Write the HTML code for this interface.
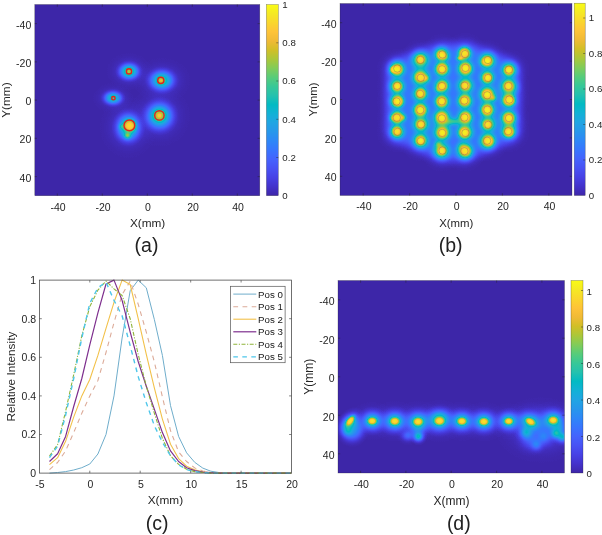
<!DOCTYPE html>
<html lang="en"><head><meta charset="utf-8"><title>Figure</title>
<style>html,body{margin:0;padding:0;background:#fff}svg{display:block;filter:blur(0.35px)}text{font-family:"Liberation Sans",sans-serif;fill:#262626}.t{font-size:10.5px}.l{font-size:11.8px}.c{font-size:9.7px}.p{font-family:"Liberation Sans","Noto Sans CJK SC",sans-serif;font-size:19.5px;font-weight:400;fill:#222}</style></head><body>
<svg width="602" height="535" viewBox="0 0 602 535">
<defs>
<filter id="pm" color-interpolation-filters="sRGB" x="0" y="0" width="1" height="1"><feComponentTransfer>
<feFuncR type="table" tableValues="0.2422 0.2504 0.2578 0.2647 0.2706 0.2751 0.2783 0.2803 0.2813 0.2810 0.2795 0.2760 0.2699 0.2602 0.2440 0.2206 0.1963 0.1834 0.1786 0.1764 0.1687 0.1540 0.1460 0.1380 0.1248 0.1113 0.0952 0.0689 0.0297 0.0036 0.0067 0.0433 0.0964 0.1408 0.1717 0.1938 0.2161 0.2470 0.2906 0.3406 0.3909 0.4456 0.5044 0.5616 0.6174 0.6720 0.7242 0.7738 0.8203 0.8634 0.9035 0.9393 0.9728 0.9956 0.9970 0.9952 0.9892 0.9786 0.9676 0.9610 0.9597 0.9628 0.9691 0.9769"/>
<feFuncG type="table" tableValues="0.1504 0.1650 0.1818 0.1978 0.2147 0.2342 0.2559 0.2782 0.3006 0.3228 0.3447 0.3667 0.3892 0.4123 0.4358 0.4603 0.4847 0.5074 0.5289 0.5499 0.5703 0.5902 0.6091 0.6276 0.6459 0.6635 0.6798 0.6948 0.7082 0.7203 0.7312 0.7411 0.7500 0.7584 0.7670 0.7758 0.7843 0.7918 0.7973 0.8008 0.8029 0.8024 0.7993 0.7942 0.7876 0.7793 0.7698 0.7598 0.7498 0.7406 0.7330 0.7288 0.7298 0.7434 0.7659 0.7893 0.8136 0.8386 0.8639 0.8890 0.9135 0.9373 0.9606 0.9839"/>
<feFuncB type="table" tableValues="0.6603 0.7076 0.7511 0.7952 0.8364 0.8710 0.8991 0.9221 0.9414 0.9579 0.9717 0.9829 0.9906 0.9952 0.9988 0.9973 0.9892 0.9798 0.9682 0.9520 0.9359 0.9218 0.9079 0.8973 0.8883 0.8763 0.8598 0.8394 0.8163 0.7917 0.7660 0.7394 0.7120 0.6842 0.6554 0.6251 0.5923 0.5567 0.5188 0.4789 0.4354 0.3909 0.3480 0.3045 0.2612 0.2227 0.1910 0.1646 0.1535 0.1596 0.1774 0.2100 0.2394 0.2371 0.2199 0.2028 0.1885 0.1766 0.1643 0.1537 0.1423 0.1265 0.1064 0.0805"/>
</feComponentTransfer></filter>
<filter id="bl" x="-20%" y="-20%" width="140%" height="140%" color-interpolation-filters="sRGB"><feGaussianBlur stdDeviation="4.2"/></filter>
<radialGradient id="g2">
<stop offset="0.0000" stop-color="#fff" stop-opacity="1.0000"/>
<stop offset="0.0625" stop-color="#fff" stop-opacity="0.9822"/>
<stop offset="0.1250" stop-color="#fff" stop-opacity="0.9306"/>
<stop offset="0.1875" stop-color="#fff" stop-opacity="0.8507"/>
<stop offset="0.2500" stop-color="#fff" stop-opacity="0.7501"/>
<stop offset="0.3125" stop-color="#fff" stop-opacity="0.6381"/>
<stop offset="0.3750" stop-color="#fff" stop-opacity="0.5237"/>
<stop offset="0.4375" stop-color="#fff" stop-opacity="0.4146"/>
<stop offset="0.5000" stop-color="#fff" stop-opacity="0.3166"/>
<stop offset="0.5625" stop-color="#fff" stop-opacity="0.2333"/>
<stop offset="0.6250" stop-color="#fff" stop-opacity="0.1658"/>
<stop offset="0.6875" stop-color="#fff" stop-opacity="0.1137"/>
<stop offset="0.7500" stop-color="#fff" stop-opacity="0.0752"/>
<stop offset="0.8125" stop-color="#fff" stop-opacity="0.0480"/>
<stop offset="0.8750" stop-color="#fff" stop-opacity="0.0295"/>
<stop offset="0.9375" stop-color="#fff" stop-opacity="0.0175"/>
<stop offset="1.0000" stop-color="#fff" stop-opacity="0.0000"/>
</radialGradient>
<radialGradient id="g3">
<stop offset="0.0000" stop-color="#fff" stop-opacity="1.0000"/>
<stop offset="0.0625" stop-color="#fff" stop-opacity="0.9989"/>
<stop offset="0.1250" stop-color="#fff" stop-opacity="0.9911"/>
<stop offset="0.1875" stop-color="#fff" stop-opacity="0.9701"/>
<stop offset="0.2500" stop-color="#fff" stop-opacity="0.9306"/>
<stop offset="0.3125" stop-color="#fff" stop-opacity="0.8690"/>
<stop offset="0.3750" stop-color="#fff" stop-opacity="0.7846"/>
<stop offset="0.4375" stop-color="#fff" stop-opacity="0.6803"/>
<stop offset="0.5000" stop-color="#fff" stop-opacity="0.5627"/>
<stop offset="0.5625" stop-color="#fff" stop-opacity="0.4410"/>
<stop offset="0.6250" stop-color="#fff" stop-opacity="0.3253"/>
<stop offset="0.6875" stop-color="#fff" stop-opacity="0.2243"/>
<stop offset="0.7500" stop-color="#fff" stop-opacity="0.1436"/>
<stop offset="0.8125" stop-color="#fff" stop-opacity="0.0848"/>
<stop offset="0.8750" stop-color="#fff" stop-opacity="0.0459"/>
<stop offset="0.9375" stop-color="#fff" stop-opacity="0.0226"/>
<stop offset="1.0000" stop-color="#fff" stop-opacity="0.0000"/>
</radialGradient>
<radialGradient id="g4">
<stop offset="0.0000" stop-color="#fff" stop-opacity="1.0000"/>
<stop offset="0.0625" stop-color="#fff" stop-opacity="0.9999"/>
<stop offset="0.1250" stop-color="#fff" stop-opacity="0.9989"/>
<stop offset="0.1875" stop-color="#fff" stop-opacity="0.9943"/>
<stop offset="0.2500" stop-color="#fff" stop-opacity="0.9822"/>
<stop offset="0.3125" stop-color="#fff" stop-opacity="0.9571"/>
<stop offset="0.3750" stop-color="#fff" stop-opacity="0.9130"/>
<stop offset="0.4375" stop-color="#fff" stop-opacity="0.8449"/>
<stop offset="0.5000" stop-color="#fff" stop-opacity="0.7501"/>
<stop offset="0.5625" stop-color="#fff" stop-opacity="0.6310"/>
<stop offset="0.6250" stop-color="#fff" stop-opacity="0.4956"/>
<stop offset="0.6875" stop-color="#fff" stop-opacity="0.3578"/>
<stop offset="0.7500" stop-color="#fff" stop-opacity="0.2333"/>
<stop offset="0.8125" stop-color="#fff" stop-opacity="0.1347"/>
<stop offset="0.8750" stop-color="#fff" stop-opacity="0.0674"/>
<stop offset="0.9375" stop-color="#fff" stop-opacity="0.0286"/>
<stop offset="1.0000" stop-color="#fff" stop-opacity="0.0000"/>
</radialGradient>
<radialGradient id="g5">
<stop offset="0.0000" stop-color="#fff" stop-opacity="1.0000"/>
<stop offset="0.0625" stop-color="#fff" stop-opacity="1.0000"/>
<stop offset="0.1250" stop-color="#fff" stop-opacity="0.9999"/>
<stop offset="0.1875" stop-color="#fff" stop-opacity="0.9989"/>
<stop offset="0.2500" stop-color="#fff" stop-opacity="0.9955"/>
<stop offset="0.3125" stop-color="#fff" stop-opacity="0.9864"/>
<stop offset="0.3750" stop-color="#fff" stop-opacity="0.9665"/>
<stop offset="0.4375" stop-color="#fff" stop-opacity="0.9289"/>
<stop offset="0.5000" stop-color="#fff" stop-opacity="0.8661"/>
<stop offset="0.5625" stop-color="#fff" stop-opacity="0.7718"/>
<stop offset="0.6250" stop-color="#fff" stop-opacity="0.6449"/>
<stop offset="0.6875" stop-color="#fff" stop-opacity="0.4934"/>
<stop offset="0.7500" stop-color="#fff" stop-opacity="0.3357"/>
<stop offset="0.8125" stop-color="#fff" stop-opacity="0.1962"/>
<stop offset="0.8750" stop-color="#fff" stop-opacity="0.0945"/>
<stop offset="0.9375" stop-color="#fff" stop-opacity="0.0357"/>
<stop offset="1.0000" stop-color="#fff" stop-opacity="0.0000"/>
</radialGradient>
<linearGradient id="cb" x1="0" y1="1" x2="0" y2="0">
<stop offset="0.0000" stop-color="#3e26a8"/>
<stop offset="0.0476" stop-color="#4332cb"/>
<stop offset="0.0952" stop-color="#4741e5"/>
<stop offset="0.1429" stop-color="#4852f4"/>
<stop offset="0.1905" stop-color="#4563fd"/>
<stop offset="0.2381" stop-color="#3875fe"/>
<stop offset="0.2857" stop-color="#2e87f7"/>
<stop offset="0.3333" stop-color="#2797eb"/>
<stop offset="0.3810" stop-color="#20a5e3"/>
<stop offset="0.4286" stop-color="#12b1d6"/>
<stop offset="0.4762" stop-color="#02bac3"/>
<stop offset="0.5238" stop-color="#24c1ae"/>
<stop offset="0.5714" stop-color="#37c897"/>
<stop offset="0.6190" stop-color="#57cc7a"/>
<stop offset="0.6667" stop-color="#81cc59"/>
<stop offset="0.7143" stop-color="#abc739"/>
<stop offset="0.7619" stop-color="#d1bf27"/>
<stop offset="0.8095" stop-color="#f0ba36"/>
<stop offset="0.8571" stop-color="#fec338"/>
<stop offset="0.9048" stop-color="#fad62d"/>
<stop offset="0.9524" stop-color="#f5e924"/>
<stop offset="1.0000" stop-color="#f9fb15"/>
</linearGradient>
</defs>
<rect width="602" height="535" fill="#fff"/>
<clipPath id="cpa"><rect x="34.8" y="4.5" width="225.0" height="191.2"/></clipPath>
<g clip-path="url(#cpa)"><g filter="url(#pm)">
<rect x="32.8" y="2.5" width="229.0" height="195.2" fill="#000"/>
<ellipse cx="129.0" cy="71.4" rx="23.6" ry="19.3" fill="url(#g2)" fill-opacity="0.12"/>
<ellipse cx="129.0" cy="71.4" rx="14.0" ry="11.3" fill="url(#g3)" fill-opacity="0.46"/>
<circle cx="129.0" cy="71.4" r="6.0" fill="url(#g2)" fill-opacity="0.45"/>
<ellipse cx="162.0" cy="80.4" rx="30.0" ry="23.6" fill="url(#g2)" fill-opacity="0.12"/>
<ellipse cx="161.8" cy="80.4" rx="17.3" ry="14.3" fill="url(#g3)" fill-opacity="0.42"/>
<circle cx="161.0" cy="80.5" r="6.9" fill="url(#g2)" fill-opacity="0.65"/>
<ellipse cx="113.0" cy="98.0" rx="21.4" ry="16.1" fill="url(#g2)" fill-opacity="0.10"/>
<ellipse cx="113.0" cy="98.0" rx="13.0" ry="9.5" fill="url(#g3)" fill-opacity="0.40"/>
<circle cx="113.4" cy="98.0" r="4.3" fill="url(#g2)" fill-opacity="0.25"/>
<ellipse cx="159.6" cy="116.0" rx="32.2" ry="32.2" fill="url(#g2)" fill-opacity="0.12"/>
<ellipse cx="159.6" cy="116.0" rx="19.6" ry="19.6" fill="url(#g3)" fill-opacity="0.42"/>
<circle cx="159.3" cy="115.5" r="9.9" fill="url(#g2)" fill-opacity="0.75"/>
<ellipse cx="128.3" cy="127.5" rx="30.0" ry="32.2" fill="url(#g2)" fill-opacity="0.12"/>
<ellipse cx="128.3" cy="127.5" rx="17.0" ry="19.6" fill="url(#g3)" fill-opacity="0.45"/>
<circle cx="129.7" cy="125.7" r="9.3" fill="url(#g3)" fill-opacity="0.82"/>
<circle cx="127.5" cy="135.5" r="6.4" fill="url(#g2)" fill-opacity="0.50"/>
<circle cx="121.5" cy="126.5" r="5.1" fill="url(#g2)" fill-opacity="0.25"/>
</g><circle cx="129.0" cy="71.4" r="2.6" fill="none" stroke="#e8211b" stroke-width="1.4"/><circle cx="160.8" cy="80.4" r="3.1" fill="none" stroke="#e8211b" stroke-width="1.4"/><circle cx="113.4" cy="98.2" r="1.7" fill="none" stroke="#e8211b" stroke-width="1.4"/><circle cx="159.4" cy="115.4" r="4.7" fill="none" stroke="#e8211b" stroke-width="1.4"/><circle cx="129.4" cy="125.4" r="5.4" fill="none" stroke="#e8211b" stroke-width="1.4"/></g>
<text class="t" x="58.0" y="210.7" text-anchor="middle">-40</text>
<text class="t" x="31.3" y="28.6" text-anchor="end">-40</text>
<text class="t" x="103.0" y="210.7" text-anchor="middle">-20</text>
<text class="t" x="31.3" y="66.9" text-anchor="end">-20</text>
<text class="t" x="148.0" y="210.7" text-anchor="middle">0</text>
<text class="t" x="31.3" y="105.1" text-anchor="end">0</text>
<text class="t" x="193.0" y="210.7" text-anchor="middle">20</text>
<text class="t" x="31.3" y="143.3" text-anchor="end">20</text>
<text class="t" x="238.0" y="210.7" text-anchor="middle">40</text>
<text class="t" x="31.3" y="181.6" text-anchor="end">40</text>
<path d="M57.3 195.7v-2.2M57.3 4.5v2.2M34.8 23.6h2.2M259.8 23.6h-2.2M102.3 195.7v-2.2M102.3 4.5v2.2M34.8 61.9h2.2M259.8 61.9h-2.2M147.3 195.7v-2.2M147.3 4.5v2.2M34.8 100.1h2.2M259.8 100.1h-2.2M192.3 195.7v-2.2M192.3 4.5v2.2M34.8 138.3h2.2M259.8 138.3h-2.2M237.3 195.7v-2.2M237.3 4.5v2.2M34.8 176.6h2.2M259.8 176.6h-2.2" stroke="#262626" stroke-width="0.6" fill="none" opacity="0.8"/>
<rect x="34.8" y="4.5" width="225.0" height="191.2" fill="none" stroke="#262626" stroke-width="0.5" opacity="0.55"/>
<text class="l" style="font-size:11.8px" x="147.6" y="227.0" text-anchor="middle">X(mm)</text>
<text class="l" style="font-size:11.8px" transform="translate(9.6 100.1) rotate(-90)" text-anchor="middle">Y(mm)</text>
<rect x="266.4" y="4.6" width="11.9" height="191.1" fill="url(#cb)" stroke="#262626" stroke-width="0.5" stroke-opacity="0.55"/>
<text class="c" x="282.3" y="199.1">0</text>
<text class="c" x="282.3" y="160.9">0.2</text>
<text class="c" x="282.3" y="122.7">0.4</text>
<text class="c" x="282.3" y="84.4">0.6</text>
<text class="c" x="282.3" y="46.2">0.8</text>
<text class="c" x="282.3" y="8.0">1</text>
<path d="M278.3 157.5h-2M278.3 119.3h-2M278.3 81.0h-2M278.3 42.8h-2" stroke="#262626" stroke-width="0.6" fill="none" opacity="0.8"/>
<text class="p" x="146.5" y="251.6" text-anchor="middle">(a)</text>
<clipPath id="cpb"><rect x="340.0" y="3.5" width="232.0" height="192.0"/></clipPath>
<g clip-path="url(#cpb)"><g filter="url(#pm)">
<rect x="338.0" y="1.5" width="236.0" height="196.0" fill="#000"/>
<polygon points="397.3,69.3 420.7,60.0 441.9,54.5 465.0,53.4 487.6,60.6 508.9,69.9 508.9,131.5 487.6,140.8 465.0,150.9 441.9,150.9 420.7,140.8 397.3,131.8" fill="#fff" stroke="#fff" stroke-width="18" stroke-linejoin="round" opacity="0.17" filter="url(#bl)"/>
<circle cx="397.3" cy="69.3" r="21.4" fill="url(#g2)" fill-opacity="0.17"/>
<circle cx="397.3" cy="86.3" r="21.4" fill="url(#g2)" fill-opacity="0.17"/>
<circle cx="397.3" cy="101.0" r="21.4" fill="url(#g2)" fill-opacity="0.17"/>
<circle cx="397.3" cy="117.7" r="21.4" fill="url(#g2)" fill-opacity="0.17"/>
<circle cx="397.3" cy="131.8" r="21.4" fill="url(#g2)" fill-opacity="0.17"/>
<circle cx="420.7" cy="60.0" r="21.4" fill="url(#g2)" fill-opacity="0.17"/>
<circle cx="420.7" cy="77.3" r="21.4" fill="url(#g2)" fill-opacity="0.17"/>
<circle cx="420.7" cy="93.8" r="21.4" fill="url(#g2)" fill-opacity="0.17"/>
<circle cx="420.7" cy="110.5" r="21.4" fill="url(#g2)" fill-opacity="0.17"/>
<circle cx="420.7" cy="124.4" r="21.4" fill="url(#g2)" fill-opacity="0.17"/>
<circle cx="420.7" cy="140.8" r="21.4" fill="url(#g2)" fill-opacity="0.17"/>
<circle cx="441.9" cy="54.5" r="21.4" fill="url(#g2)" fill-opacity="0.17"/>
<circle cx="441.9" cy="69.3" r="21.4" fill="url(#g2)" fill-opacity="0.17"/>
<circle cx="441.9" cy="85.8" r="21.4" fill="url(#g2)" fill-opacity="0.17"/>
<circle cx="441.9" cy="101.2" r="21.4" fill="url(#g2)" fill-opacity="0.17"/>
<circle cx="441.9" cy="117.7" r="21.4" fill="url(#g2)" fill-opacity="0.17"/>
<circle cx="441.9" cy="132.3" r="21.4" fill="url(#g2)" fill-opacity="0.17"/>
<circle cx="441.9" cy="150.9" r="21.4" fill="url(#g2)" fill-opacity="0.17"/>
<circle cx="465.0" cy="53.4" r="21.4" fill="url(#g2)" fill-opacity="0.17"/>
<circle cx="465.0" cy="68.5" r="21.4" fill="url(#g2)" fill-opacity="0.17"/>
<circle cx="465.0" cy="85.8" r="21.4" fill="url(#g2)" fill-opacity="0.17"/>
<circle cx="465.0" cy="101.0" r="21.4" fill="url(#g2)" fill-opacity="0.17"/>
<circle cx="465.0" cy="117.2" r="21.4" fill="url(#g2)" fill-opacity="0.17"/>
<circle cx="465.0" cy="132.3" r="21.4" fill="url(#g2)" fill-opacity="0.17"/>
<circle cx="465.0" cy="150.9" r="21.4" fill="url(#g2)" fill-opacity="0.17"/>
<circle cx="487.6" cy="60.6" r="21.4" fill="url(#g2)" fill-opacity="0.17"/>
<circle cx="487.6" cy="77.3" r="21.4" fill="url(#g2)" fill-opacity="0.17"/>
<circle cx="487.6" cy="94.6" r="21.4" fill="url(#g2)" fill-opacity="0.17"/>
<circle cx="487.6" cy="109.7" r="21.4" fill="url(#g2)" fill-opacity="0.17"/>
<circle cx="487.6" cy="124.4" r="21.4" fill="url(#g2)" fill-opacity="0.17"/>
<circle cx="487.6" cy="140.8" r="21.4" fill="url(#g2)" fill-opacity="0.17"/>
<circle cx="508.9" cy="69.9" r="21.4" fill="url(#g2)" fill-opacity="0.17"/>
<circle cx="508.9" cy="86.3" r="21.4" fill="url(#g2)" fill-opacity="0.17"/>
<circle cx="508.9" cy="100.4" r="21.4" fill="url(#g2)" fill-opacity="0.17"/>
<circle cx="508.9" cy="118.2" r="21.4" fill="url(#g2)" fill-opacity="0.17"/>
<circle cx="508.9" cy="131.5" r="21.4" fill="url(#g2)" fill-opacity="0.17"/>
<circle cx="397.1" cy="69.0" r="13.1" fill="url(#g3)" fill-opacity="0.44"/>
<circle cx="396.9" cy="86.3" r="12.2" fill="url(#g3)" fill-opacity="0.44"/>
<circle cx="396.9" cy="101.0" r="11.1" fill="url(#g3)" fill-opacity="0.44"/>
<circle cx="397.2" cy="117.3" r="11.3" fill="url(#g3)" fill-opacity="0.44"/>
<circle cx="397.2" cy="132.1" r="11.4" fill="url(#g3)" fill-opacity="0.44"/>
<circle cx="420.4" cy="60.1" r="14.1" fill="url(#g3)" fill-opacity="0.44"/>
<circle cx="420.8" cy="77.2" r="14.2" fill="url(#g3)" fill-opacity="0.44"/>
<circle cx="420.2" cy="94.2" r="11.9" fill="url(#g3)" fill-opacity="0.44"/>
<circle cx="420.3" cy="110.1" r="12.0" fill="url(#g3)" fill-opacity="0.44"/>
<circle cx="421.0" cy="124.1" r="12.9" fill="url(#g3)" fill-opacity="0.44"/>
<circle cx="420.8" cy="140.7" r="12.8" fill="url(#g3)" fill-opacity="0.44"/>
<circle cx="441.5" cy="54.1" r="11.7" fill="url(#g3)" fill-opacity="0.44"/>
<circle cx="442.1" cy="69.2" r="12.0" fill="url(#g3)" fill-opacity="0.44"/>
<circle cx="442.0" cy="85.8" r="12.0" fill="url(#g3)" fill-opacity="0.44"/>
<circle cx="442.2" cy="101.4" r="11.8" fill="url(#g3)" fill-opacity="0.44"/>
<circle cx="442.0" cy="117.7" r="13.9" fill="url(#g3)" fill-opacity="0.44"/>
<circle cx="442.1" cy="132.1" r="14.2" fill="url(#g3)" fill-opacity="0.44"/>
<circle cx="441.5" cy="150.8" r="13.5" fill="url(#g3)" fill-opacity="0.44"/>
<circle cx="464.7" cy="53.4" r="11.1" fill="url(#g3)" fill-opacity="0.44"/>
<circle cx="465.2" cy="68.8" r="12.9" fill="url(#g3)" fill-opacity="0.44"/>
<circle cx="465.4" cy="85.6" r="13.3" fill="url(#g3)" fill-opacity="0.44"/>
<circle cx="465.1" cy="101.1" r="12.5" fill="url(#g3)" fill-opacity="0.44"/>
<circle cx="465.3" cy="117.6" r="12.6" fill="url(#g3)" fill-opacity="0.44"/>
<circle cx="465.2" cy="131.9" r="13.3" fill="url(#g3)" fill-opacity="0.44"/>
<circle cx="465.1" cy="151.4" r="13.7" fill="url(#g3)" fill-opacity="0.44"/>
<circle cx="487.4" cy="60.5" r="13.2" fill="url(#g3)" fill-opacity="0.44"/>
<circle cx="487.1" cy="77.3" r="11.5" fill="url(#g3)" fill-opacity="0.44"/>
<circle cx="487.2" cy="94.2" r="13.5" fill="url(#g3)" fill-opacity="0.44"/>
<circle cx="487.2" cy="109.4" r="12.3" fill="url(#g3)" fill-opacity="0.44"/>
<circle cx="488.0" cy="124.0" r="12.5" fill="url(#g3)" fill-opacity="0.44"/>
<circle cx="487.6" cy="141.2" r="13.7" fill="url(#g3)" fill-opacity="0.44"/>
<circle cx="509.3" cy="69.7" r="12.4" fill="url(#g3)" fill-opacity="0.44"/>
<circle cx="508.8" cy="86.7" r="14.2" fill="url(#g3)" fill-opacity="0.44"/>
<circle cx="508.6" cy="100.1" r="11.7" fill="url(#g3)" fill-opacity="0.44"/>
<circle cx="508.6" cy="118.2" r="12.9" fill="url(#g3)" fill-opacity="0.44"/>
<circle cx="508.7" cy="131.0" r="12.4" fill="url(#g3)" fill-opacity="0.44"/>
<circle cx="393.3" cy="69.6" r="5.3" fill="url(#g3)" fill-opacity="0.80"/>
<circle cx="425.8" cy="78.2" r="6.4" fill="url(#g2)" fill-opacity="0.60"/>
<ellipse cx="460.3" cy="58.2" rx="6.9" ry="5.1" fill="url(#g2)" fill-opacity="0.75"/>
<ellipse cx="452.5" cy="121.5" rx="21.4" ry="7.3" fill="url(#g2)" fill-opacity="0.42"/>
<circle cx="493.0" cy="97.8" r="6.4" fill="url(#g2)" fill-opacity="0.55"/>
<circle cx="438.5" cy="144.5" r="7.3" fill="url(#g2)" fill-opacity="0.45"/>
<circle cx="403.0" cy="117.6" r="6.0" fill="url(#g2)" fill-opacity="0.50"/>
<circle cx="392.8" cy="118.0" r="5.6" fill="url(#g2)" fill-opacity="0.40"/>
<circle cx="438.5" cy="89.0" r="6.4" fill="url(#g2)" fill-opacity="0.45"/>
<circle cx="445.0" cy="57.0" r="7.5" fill="url(#g2)" fill-opacity="0.40"/>
<circle cx="484.0" cy="62.0" r="6.9" fill="url(#g2)" fill-opacity="0.45"/>
<circle cx="462.0" cy="147.0" r="8.6" fill="url(#g2)" fill-opacity="0.35"/>
<circle cx="511.5" cy="101.0" r="6.4" fill="url(#g2)" fill-opacity="0.50"/>
<circle cx="397.1" cy="69.4" r="8.4" fill="url(#g3)" fill-opacity="0.92"/>
<circle cx="397.3" cy="86.4" r="7.3" fill="url(#g3)" fill-opacity="0.89"/>
<circle cx="397.8" cy="101.3" r="8.6" fill="url(#g3)" fill-opacity="0.92"/>
<circle cx="397.2" cy="117.6" r="8.3" fill="url(#g3)" fill-opacity="0.83"/>
<circle cx="396.8" cy="131.3" r="7.4" fill="url(#g3)" fill-opacity="0.84"/>
<circle cx="420.5" cy="59.5" r="7.4" fill="url(#g3)" fill-opacity="0.82"/>
<circle cx="420.2" cy="77.1" r="8.8" fill="url(#g3)" fill-opacity="0.82"/>
<circle cx="420.8" cy="93.4" r="7.8" fill="url(#g3)" fill-opacity="0.85"/>
<circle cx="420.5" cy="110.0" r="9.0" fill="url(#g3)" fill-opacity="0.91"/>
<circle cx="420.7" cy="124.4" r="7.3" fill="url(#g3)" fill-opacity="0.83"/>
<circle cx="420.5" cy="140.5" r="7.4" fill="url(#g3)" fill-opacity="0.91"/>
<circle cx="441.3" cy="55.0" r="7.4" fill="url(#g3)" fill-opacity="0.88"/>
<circle cx="442.0" cy="68.7" r="8.9" fill="url(#g3)" fill-opacity="0.88"/>
<circle cx="442.3" cy="86.0" r="7.8" fill="url(#g3)" fill-opacity="0.85"/>
<circle cx="441.5" cy="101.5" r="8.6" fill="url(#g3)" fill-opacity="0.88"/>
<circle cx="441.7" cy="117.4" r="9.0" fill="url(#g3)" fill-opacity="0.91"/>
<circle cx="442.3" cy="132.7" r="8.5" fill="url(#g3)" fill-opacity="0.91"/>
<circle cx="441.6" cy="150.9" r="7.2" fill="url(#g3)" fill-opacity="0.86"/>
<circle cx="464.4" cy="53.1" r="8.4" fill="url(#g3)" fill-opacity="0.85"/>
<circle cx="465.5" cy="68.4" r="9.0" fill="url(#g3)" fill-opacity="0.92"/>
<circle cx="465.5" cy="85.6" r="7.6" fill="url(#g3)" fill-opacity="0.84"/>
<circle cx="464.6" cy="100.6" r="8.8" fill="url(#g3)" fill-opacity="0.89"/>
<circle cx="465.4" cy="117.2" r="8.6" fill="url(#g3)" fill-opacity="0.89"/>
<circle cx="464.5" cy="132.5" r="8.6" fill="url(#g3)" fill-opacity="0.92"/>
<circle cx="465.3" cy="150.9" r="8.6" fill="url(#g3)" fill-opacity="0.84"/>
<circle cx="487.4" cy="61.0" r="7.9" fill="url(#g3)" fill-opacity="0.93"/>
<circle cx="487.5" cy="77.8" r="7.5" fill="url(#g3)" fill-opacity="0.90"/>
<circle cx="487.2" cy="94.2" r="8.6" fill="url(#g3)" fill-opacity="0.92"/>
<circle cx="487.2" cy="110.1" r="8.4" fill="url(#g3)" fill-opacity="0.93"/>
<circle cx="487.4" cy="124.5" r="7.2" fill="url(#g3)" fill-opacity="0.83"/>
<circle cx="488.2" cy="141.0" r="8.9" fill="url(#g3)" fill-opacity="0.88"/>
<circle cx="508.8" cy="70.3" r="7.5" fill="url(#g3)" fill-opacity="0.91"/>
<circle cx="508.6" cy="86.1" r="8.2" fill="url(#g3)" fill-opacity="0.85"/>
<circle cx="508.6" cy="100.3" r="8.8" fill="url(#g3)" fill-opacity="0.83"/>
<circle cx="508.7" cy="118.1" r="8.8" fill="url(#g3)" fill-opacity="0.88"/>
<circle cx="508.8" cy="132.0" r="8.1" fill="url(#g3)" fill-opacity="0.88"/>
</g><circle cx="397.3" cy="68.5" r="3.7" fill="none" stroke="#4a5560" stroke-width="0.5" opacity="0.6"/><circle cx="397.2" cy="85.8" r="3.7" fill="none" stroke="#4a5560" stroke-width="0.5" opacity="0.6"/><circle cx="396.5" cy="101.5" r="3.7" fill="none" stroke="#4a5560" stroke-width="0.5" opacity="0.6"/><circle cx="396.8" cy="117.7" r="3.7" fill="none" stroke="#4a5560" stroke-width="0.5" opacity="0.6"/><circle cx="397.7" cy="131.9" r="3.7" fill="none" stroke="#4a5560" stroke-width="0.5" opacity="0.6"/><circle cx="420.4" cy="60.0" r="3.7" fill="none" stroke="#4a5560" stroke-width="0.5" opacity="0.6"/><circle cx="420.8" cy="77.8" r="3.7" fill="none" stroke="#4a5560" stroke-width="0.5" opacity="0.6"/><circle cx="420.1" cy="93.9" r="3.7" fill="none" stroke="#4a5560" stroke-width="0.5" opacity="0.6"/><circle cx="420.3" cy="110.1" r="3.7" fill="none" stroke="#4a5560" stroke-width="0.5" opacity="0.6"/><circle cx="421.1" cy="124.4" r="3.7" fill="none" stroke="#4a5560" stroke-width="0.5" opacity="0.6"/><circle cx="420.8" cy="141.2" r="3.7" fill="none" stroke="#4a5560" stroke-width="0.5" opacity="0.6"/><circle cx="442.6" cy="54.4" r="3.7" fill="none" stroke="#4a5560" stroke-width="0.5" opacity="0.6"/><circle cx="442.1" cy="69.3" r="3.7" fill="none" stroke="#4a5560" stroke-width="0.5" opacity="0.6"/><circle cx="441.9" cy="86.1" r="3.7" fill="none" stroke="#4a5560" stroke-width="0.5" opacity="0.6"/><circle cx="441.8" cy="101.3" r="3.7" fill="none" stroke="#4a5560" stroke-width="0.5" opacity="0.6"/><circle cx="441.9" cy="118.4" r="3.7" fill="none" stroke="#4a5560" stroke-width="0.5" opacity="0.6"/><circle cx="442.2" cy="132.9" r="3.7" fill="none" stroke="#4a5560" stroke-width="0.5" opacity="0.6"/><circle cx="442.6" cy="150.5" r="3.7" fill="none" stroke="#4a5560" stroke-width="0.5" opacity="0.6"/><circle cx="465.1" cy="54.1" r="3.7" fill="none" stroke="#4a5560" stroke-width="0.5" opacity="0.6"/><circle cx="465.5" cy="67.9" r="3.7" fill="none" stroke="#4a5560" stroke-width="0.5" opacity="0.6"/><circle cx="464.4" cy="85.7" r="3.7" fill="none" stroke="#4a5560" stroke-width="0.5" opacity="0.6"/><circle cx="464.3" cy="100.6" r="3.7" fill="none" stroke="#4a5560" stroke-width="0.5" opacity="0.6"/><circle cx="464.3" cy="117.5" r="3.7" fill="none" stroke="#4a5560" stroke-width="0.5" opacity="0.6"/><circle cx="465.5" cy="132.9" r="3.7" fill="none" stroke="#4a5560" stroke-width="0.5" opacity="0.6"/><circle cx="464.4" cy="151.2" r="3.7" fill="none" stroke="#4a5560" stroke-width="0.5" opacity="0.6"/><circle cx="487.9" cy="60.0" r="3.7" fill="none" stroke="#4a5560" stroke-width="0.5" opacity="0.6"/><circle cx="488.2" cy="78.0" r="3.7" fill="none" stroke="#4a5560" stroke-width="0.5" opacity="0.6"/><circle cx="487.2" cy="95.3" r="3.7" fill="none" stroke="#4a5560" stroke-width="0.5" opacity="0.6"/><circle cx="487.4" cy="109.7" r="3.7" fill="none" stroke="#4a5560" stroke-width="0.5" opacity="0.6"/><circle cx="488.4" cy="124.9" r="3.7" fill="none" stroke="#4a5560" stroke-width="0.5" opacity="0.6"/><circle cx="487.1" cy="140.7" r="3.7" fill="none" stroke="#4a5560" stroke-width="0.5" opacity="0.6"/><circle cx="508.9" cy="69.6" r="3.7" fill="none" stroke="#4a5560" stroke-width="0.5" opacity="0.6"/><circle cx="508.4" cy="86.0" r="3.7" fill="none" stroke="#4a5560" stroke-width="0.5" opacity="0.6"/><circle cx="509.3" cy="99.6" r="3.7" fill="none" stroke="#4a5560" stroke-width="0.5" opacity="0.6"/><circle cx="509.0" cy="118.1" r="3.7" fill="none" stroke="#4a5560" stroke-width="0.5" opacity="0.6"/><circle cx="508.1" cy="131.2" r="3.7" fill="none" stroke="#4a5560" stroke-width="0.5" opacity="0.6"/></g>
<text class="t" x="363.9" y="210.4" text-anchor="middle">-40</text>
<text class="t" x="336.5" y="27.7" text-anchor="end">-40</text>
<text class="t" x="410.3" y="210.4" text-anchor="middle">-20</text>
<text class="t" x="336.5" y="66.1" text-anchor="end">-20</text>
<text class="t" x="456.7" y="210.4" text-anchor="middle">0</text>
<text class="t" x="336.5" y="104.5" text-anchor="end">0</text>
<text class="t" x="503.1" y="210.4" text-anchor="middle">20</text>
<text class="t" x="336.5" y="142.9" text-anchor="end">20</text>
<text class="t" x="549.5" y="210.4" text-anchor="middle">40</text>
<text class="t" x="336.5" y="181.3" text-anchor="end">40</text>
<path d="M363.2 195.5v-2.2M363.2 3.5v2.2M340.0 22.7h2.2M572.0 22.7h-2.2M409.6 195.5v-2.2M409.6 3.5v2.2M340.0 61.1h2.2M572.0 61.1h-2.2M456.0 195.5v-2.2M456.0 3.5v2.2M340.0 99.5h2.2M572.0 99.5h-2.2M502.4 195.5v-2.2M502.4 3.5v2.2M340.0 137.9h2.2M572.0 137.9h-2.2M548.8 195.5v-2.2M548.8 3.5v2.2M340.0 176.3h2.2M572.0 176.3h-2.2" stroke="#262626" stroke-width="0.6" fill="none" opacity="0.8"/>
<rect x="340.0" y="3.5" width="232.0" height="192.0" fill="none" stroke="#262626" stroke-width="0.5" opacity="0.55"/>
<text class="l" style="font-size:11.4px" x="456.3" y="226.6" text-anchor="middle">X(mm)</text>
<text class="l" style="font-size:11.4px" transform="translate(316.8 99.5) rotate(-90)" text-anchor="middle">Y(mm)</text>
<rect x="574.2" y="3.2" width="11.0" height="192.3" fill="url(#cb)" stroke="#262626" stroke-width="0.5" stroke-opacity="0.55"/>
<text class="c" x="588.8" y="198.9">0</text>
<text class="c" x="588.8" y="163.4">0.2</text>
<text class="c" x="588.8" y="127.9">0.4</text>
<text class="c" x="588.8" y="92.4">0.6</text>
<text class="c" x="588.8" y="56.9">0.8</text>
<text class="c" x="588.8" y="21.4">1</text>
<path d="M585.2 160.0h-2M585.2 124.5h-2M585.2 89.0h-2M585.2 53.5h-2M585.2 18.0h-2" stroke="#262626" stroke-width="0.6" fill="none" opacity="0.8"/>
<text class="p" x="450.7" y="252.0" text-anchor="middle">(b)</text>
<clipPath id="cpd"><rect x="338.0" y="280.5" width="226.5" height="192.5"/></clipPath>
<g clip-path="url(#cpd)"><g filter="url(#pm)">
<rect x="336.0" y="278.5" width="230.5" height="196.5" fill="#000"/>
<ellipse cx="372.2" cy="421.0" rx="25.0" ry="19.8" fill="url(#g2)" fill-opacity="0.16"/>
<ellipse cx="394.8" cy="421.2" rx="26.5" ry="21.0" fill="url(#g2)" fill-opacity="0.16"/>
<ellipse cx="418.1" cy="421.6" rx="27.0" ry="21.4" fill="url(#g2)" fill-opacity="0.16"/>
<ellipse cx="439.5" cy="421.0" rx="27.8" ry="22.0" fill="url(#g2)" fill-opacity="0.16"/>
<ellipse cx="461.9" cy="421.2" rx="25.7" ry="20.4" fill="url(#g2)" fill-opacity="0.16"/>
<ellipse cx="483.9" cy="421.6" rx="25.7" ry="20.4" fill="url(#g2)" fill-opacity="0.16"/>
<ellipse cx="508.7" cy="421.2" rx="23.7" ry="18.7" fill="url(#g2)" fill-opacity="0.16"/>
<ellipse cx="553.2" cy="420.2" rx="25.2" ry="20.0" fill="url(#g2)" fill-opacity="0.16"/>
<ellipse cx="372.2" cy="421.0" rx="16.0" ry="14.6" fill="url(#g2)" fill-opacity="0.48"/>
<ellipse cx="394.8" cy="421.2" rx="17.0" ry="15.5" fill="url(#g2)" fill-opacity="0.48"/>
<ellipse cx="418.1" cy="421.6" rx="17.3" ry="15.8" fill="url(#g2)" fill-opacity="0.48"/>
<ellipse cx="439.5" cy="421.0" rx="17.8" ry="16.2" fill="url(#g2)" fill-opacity="0.48"/>
<ellipse cx="461.9" cy="421.2" rx="16.5" ry="15.0" fill="url(#g2)" fill-opacity="0.48"/>
<ellipse cx="483.9" cy="421.6" rx="16.5" ry="15.0" fill="url(#g2)" fill-opacity="0.48"/>
<ellipse cx="508.7" cy="421.2" rx="15.2" ry="13.8" fill="url(#g2)" fill-opacity="0.48"/>
<ellipse cx="553.2" cy="420.2" rx="16.2" ry="14.7" fill="url(#g2)" fill-opacity="0.48"/>
<ellipse cx="352.0" cy="429.0" rx="17.5" ry="18.3" fill="url(#g3)" fill-opacity="0.30"/>
<ellipse rx="17.2" ry="11.8" transform="translate(350.0 422.0) rotate(-50)" fill="url(#g2)" fill-opacity="0.45"/>
<ellipse rx="9.0" ry="4.5" transform="translate(350.3 420.8) rotate(-52)" fill="url(#g3)" fill-opacity="0.88"/>
<circle cx="348.0" cy="431.0" r="9.7" fill="url(#g2)" fill-opacity="0.22"/>
<circle cx="418.4" cy="436.6" r="9.0" fill="url(#g2)" fill-opacity="0.46"/>
<ellipse cx="408.0" cy="435.5" rx="11.8" ry="9.9" fill="url(#g2)" fill-opacity="0.20"/>
<ellipse cx="418.0" cy="429.0" rx="12.9" ry="15.0" fill="url(#g2)" fill-opacity="0.15"/>
<ellipse cx="439.5" cy="416.5" rx="19.3" ry="12.9" fill="url(#g2)" fill-opacity="0.18"/>
<ellipse cx="530.3" cy="421.8" rx="25.7" ry="20.4" fill="url(#g2)" fill-opacity="0.18"/>
<ellipse rx="17.2" ry="13.3" transform="translate(530.3 421.8) rotate(25)" fill="url(#g2)" fill-opacity="0.45"/>
<ellipse rx="7.7" ry="4.8" transform="translate(530.3 421.6) rotate(28)" fill="url(#g3)" fill-opacity="0.87"/>
<circle cx="526.0" cy="432.5" r="12.0" fill="url(#g2)" fill-opacity="0.33"/>
<circle cx="536.4" cy="445.0" r="10.7" fill="url(#g2)" fill-opacity="0.20"/>
<circle cx="544.0" cy="437.0" r="13.9" fill="url(#g2)" fill-opacity="0.18"/>
<circle cx="530.0" cy="440.0" r="17.2" fill="url(#g2)" fill-opacity="0.12"/>
<ellipse cx="541.0" cy="430.0" rx="47.2" ry="34.3" fill="url(#g2)" fill-opacity="0.14"/>
<circle cx="556.0" cy="433.5" r="10.3" fill="url(#g2)" fill-opacity="0.42"/>
<circle cx="562.5" cy="437.0" r="9.9" fill="url(#g2)" fill-opacity="0.40"/>
<circle cx="560.0" cy="428.0" r="12.9" fill="url(#g2)" fill-opacity="0.20"/>
<ellipse cx="372.2" cy="421.0" rx="6.8" ry="5.3" fill="url(#g3)" fill-opacity="0.87"/>
<ellipse cx="394.8" cy="421.2" rx="7.2" ry="5.7" fill="url(#g3)" fill-opacity="0.87"/>
<ellipse cx="418.1" cy="421.6" rx="7.3" ry="5.8" fill="url(#g3)" fill-opacity="0.87"/>
<ellipse cx="439.5" cy="421.0" rx="7.5" ry="5.9" fill="url(#g3)" fill-opacity="0.87"/>
<ellipse cx="461.9" cy="421.2" rx="7.0" ry="5.5" fill="url(#g3)" fill-opacity="0.87"/>
<ellipse cx="483.9" cy="421.6" rx="7.0" ry="5.5" fill="url(#g3)" fill-opacity="0.87"/>
<ellipse cx="508.7" cy="421.2" rx="6.4" ry="5.0" fill="url(#g3)" fill-opacity="0.87"/>
<ellipse cx="553.2" cy="420.2" rx="6.8" ry="5.4" fill="url(#g3)" fill-opacity="0.87"/>
</g></g>
<text class="t" x="361.3" y="488.2" text-anchor="middle">-40</text>
<text class="t" x="334.5" y="305.4" text-anchor="end">-40</text>
<text class="t" x="406.6" y="488.2" text-anchor="middle">-20</text>
<text class="t" x="334.5" y="343.9" text-anchor="end">-20</text>
<text class="t" x="451.9" y="488.2" text-anchor="middle">0</text>
<text class="t" x="334.5" y="382.4" text-anchor="end">0</text>
<text class="t" x="497.2" y="488.2" text-anchor="middle">20</text>
<text class="t" x="334.5" y="420.9" text-anchor="end">20</text>
<text class="t" x="542.6" y="488.2" text-anchor="middle">40</text>
<text class="t" x="334.5" y="459.4" text-anchor="end">40</text>
<path d="M360.6 473.0v-2.2M360.6 280.5v2.2M338.0 299.8h2.2M564.5 299.8h-2.2M405.9 473.0v-2.2M405.9 280.5v2.2M338.0 338.2h2.2M564.5 338.2h-2.2M451.2 473.0v-2.2M451.2 280.5v2.2M338.0 376.8h2.2M564.5 376.8h-2.2M496.6 473.0v-2.2M496.6 280.5v2.2M338.0 415.2h2.2M564.5 415.2h-2.2M541.9 473.0v-2.2M541.9 280.5v2.2M338.0 453.8h2.2M564.5 453.8h-2.2" stroke="#262626" stroke-width="0.6" fill="none" opacity="0.8"/>
<rect x="338.0" y="280.5" width="226.5" height="192.5" fill="none" stroke="#262626" stroke-width="0.5" opacity="0.55"/>
<text class="l" style="font-size:12px" x="451.6" y="504.9" text-anchor="middle">X(mm)</text>
<text class="l" style="font-size:12px" transform="translate(312.6 376.8) rotate(-90)" text-anchor="middle">Y(mm)</text>
<rect x="571.0" y="280.5" width="12.0" height="192.5" fill="url(#cb)" stroke="#262626" stroke-width="0.5" stroke-opacity="0.55"/>
<text class="c" x="586.6" y="477.0">0</text>
<text class="c" x="586.6" y="440.5">0.2</text>
<text class="c" x="586.6" y="404.0">0.4</text>
<text class="c" x="586.6" y="367.5">0.6</text>
<text class="c" x="586.6" y="331.0">0.8</text>
<text class="c" x="586.6" y="294.5">1</text>
<path d="M583.0 436.5h-2M583.0 400.0h-2M583.0 363.5h-2M583.0 327.0h-2M583.0 290.5h-2" stroke="#262626" stroke-width="0.6" fill="none" opacity="0.8"/>
<text class="p" x="458.8" y="530.0" text-anchor="middle">(d)</text>
<clipPath id="cpc"><rect x="39.4" y="279.1" width="252.1" height="195.0"/></clipPath>
<g clip-path="url(#cpc)" fill="none" stroke-linejoin="round">
<polyline points="49.5,473.1 57.6,472.5 65.6,471.6 73.7,470.0 81.8,467.7 89.8,464.0 97.9,454.0 106.0,434.5 114.0,395.9 122.1,338.0 130.2,290.7 138.2,280.1 146.3,287.8 154.4,319.7 162.4,355.4 170.5,405.6 178.6,436.4 186.6,452.8 194.7,462.3 202.8,468.1 210.8,471.2 218.9,472.5 227.0,473.1 235.0,473.1 243.1,473.1 251.2,473.1 259.2,473.1 267.3,473.1 275.4,473.1 283.4,473.1 291.5,473.1" stroke="#6fadcb" stroke-width="1.0"/>
<polyline points="49.5,469.6 57.6,462.5 65.6,450.9 73.7,432.6 81.8,413.3 89.8,395.9 97.9,380.5 106.0,352.5 114.0,322.6 122.1,294.6 130.2,281.1 138.2,304.2 146.3,332.2 154.4,362.1 162.4,396.9 170.5,430.6 178.6,451.9 186.6,461.5 194.7,467.9 202.8,471.0 210.8,472.5 218.9,473.1 227.0,473.1 235.0,473.1 243.1,473.1 251.2,473.1 259.2,473.1 267.3,473.1 275.4,473.1 283.4,473.1 291.5,473.1" stroke="#dcab99" stroke-width="1.1" stroke-dasharray="4.8 4.4"/>
<polyline points="49.5,464.6 57.6,457.7 65.6,441.3 73.7,417.1 81.8,395.9 89.8,379.5 97.9,355.4 106.0,328.4 114.0,302.3 122.1,280.1 130.2,284.5 138.2,318.7 146.3,354.4 154.4,388.2 162.4,419.1 170.5,444.2 178.6,458.6 186.6,466.2 194.7,469.8 202.8,471.7 210.8,472.7 218.9,473.1 227.0,473.1 235.0,473.1 243.1,473.1 251.2,473.1 259.2,473.1 267.3,473.1 275.4,473.1 283.4,473.1 291.5,473.1" stroke="#f2c14a" stroke-width="1.1"/>
<polyline points="49.5,461.5 57.6,453.8 65.6,436.4 73.7,406.5 81.8,378.5 89.8,344.8 97.9,312.9 106.0,284.0 114.0,280.1 122.1,300.4 130.2,332.2 138.2,361.5 146.3,386.2 154.4,409.4 162.4,432.6 170.5,450.9 178.6,461.5 186.6,467.7 194.7,470.6 202.8,472.1 210.8,472.7 218.9,473.1 227.0,473.1 235.0,473.1 243.1,473.1 251.2,473.1 259.2,473.1 267.3,473.1 275.4,473.1 283.4,473.1 291.5,473.1" stroke="#7e2f8e" stroke-width="1.2"/>
<polyline points="49.5,456.1 57.6,444.5 65.6,411.3 73.7,374.7 81.8,335.7 89.8,306.7 97.9,290.1 106.0,281.1 114.0,288.8 122.1,295.5 130.2,318.7 138.2,354.4 146.3,386.2 154.4,413.3 162.4,438.4 170.5,455.7 178.6,464.4 186.6,469.2 194.7,471.6 202.8,472.5 210.8,473.1 218.9,473.1 227.0,473.1 235.0,473.1 243.1,473.1 251.2,473.1 259.2,473.1 267.3,473.1 275.4,473.1 283.4,473.1 291.5,473.1" stroke="#8fb43a" stroke-width="1.1" stroke-dasharray="4 1.5 1.2 1.5"/>
<polyline points="49.5,457.7 57.6,446.1 65.6,415.2 73.7,378.5 81.8,338.0 89.8,303.3 97.9,287.8 106.0,282.0 114.0,300.4 122.1,315.8 130.2,345.7 138.2,376.6 146.3,402.7 154.4,425.8 162.4,442.2 170.5,455.7 178.6,464.8 186.6,469.6 194.7,471.7 202.8,472.7 210.8,473.1 218.9,473.1 227.0,473.1 235.0,473.1 243.1,473.1 251.2,473.1 259.2,473.1 267.3,473.1 275.4,473.1 283.4,473.1 291.5,473.1" stroke="#4dc6ea" stroke-width="1.4" stroke-dasharray="4.6 4.4"/>
</g>
<rect x="39.4" y="280.1" width="252.1" height="193.0" fill="none" stroke="#4d4d4d" stroke-width="0.8"/>
<text class="t" x="40.0" y="487.5" text-anchor="middle">-5</text>
<text class="t" x="90.4" y="487.5" text-anchor="middle">0</text>
<text class="t" x="140.8" y="487.5" text-anchor="middle">5</text>
<text class="t" x="191.3" y="487.5" text-anchor="middle">10</text>
<text class="t" x="241.7" y="487.5" text-anchor="middle">15</text>
<text class="t" x="292.1" y="487.5" text-anchor="middle">20</text>
<text class="t" x="36.2" y="477.0" text-anchor="end">0</text>
<text class="t" x="36.2" y="438.4" text-anchor="end">0.2</text>
<text class="t" x="36.2" y="399.8" text-anchor="end">0.4</text>
<text class="t" x="36.2" y="361.2" text-anchor="end">0.6</text>
<text class="t" x="36.2" y="322.6" text-anchor="end">0.8</text>
<text class="t" x="36.2" y="284.0" text-anchor="end">1</text>
<path d="M89.8 473.1v-2.4M89.8 280.1v2.4M140.2 473.1v-2.4M140.2 280.1v2.4M190.7 473.1v-2.4M190.7 280.1v2.4M241.1 473.1v-2.4M241.1 280.1v2.4M39.4 434.5h2.4M291.5 434.5h-2.4M39.4 395.9h2.4M291.5 395.9h-2.4M39.4 357.3h2.4M291.5 357.3h-2.4M39.4 318.7h2.4M291.5 318.7h-2.4" stroke="#4d4d4d" stroke-width="0.7" fill="none"/>
<text class="l" x="165.4" y="504" text-anchor="middle">X(mm)</text>
<text class="l" transform="translate(15.4 376.6) rotate(-90)" text-anchor="middle">Relative Intensity</text>
<rect x="230.5" y="286.3" width="54.6" height="76.4" fill="#fff" stroke="#555" stroke-width="0.7"/>
<path d="M233.3 294.1H256.3" stroke="#6fadcb" stroke-width="1.0"/>
<text class="c" style="fill:#151515" x="258.1" y="297.5">Pos 0</text>
<path d="M233.3 306.7H256.3" stroke="#dcab99" stroke-width="1.1" stroke-dasharray="4.8 4.4"/>
<text class="c" style="fill:#151515" x="258.1" y="310.1">Pos 1</text>
<path d="M233.3 319.2H256.3" stroke="#f2c14a" stroke-width="1.1"/>
<text class="c" style="fill:#151515" x="258.1" y="322.6">Pos 2</text>
<path d="M233.3 331.8H256.3" stroke="#7e2f8e" stroke-width="1.2"/>
<text class="c" style="fill:#151515" x="258.1" y="335.1">Pos 3</text>
<path d="M233.3 344.3H256.3" stroke="#8fb43a" stroke-width="1.1" stroke-dasharray="4 1.5 1.2 1.5"/>
<text class="c" style="fill:#151515" x="258.1" y="347.7">Pos 4</text>
<path d="M233.3 356.9H256.3" stroke="#4dc6ea" stroke-width="1.4" stroke-dasharray="4.6 4.4"/>
<text class="c" style="fill:#151515" x="258.1" y="360.2">Pos 5</text>
<text class="p" x="157.1" y="530" text-anchor="middle">(c)</text>
</svg></body></html>
